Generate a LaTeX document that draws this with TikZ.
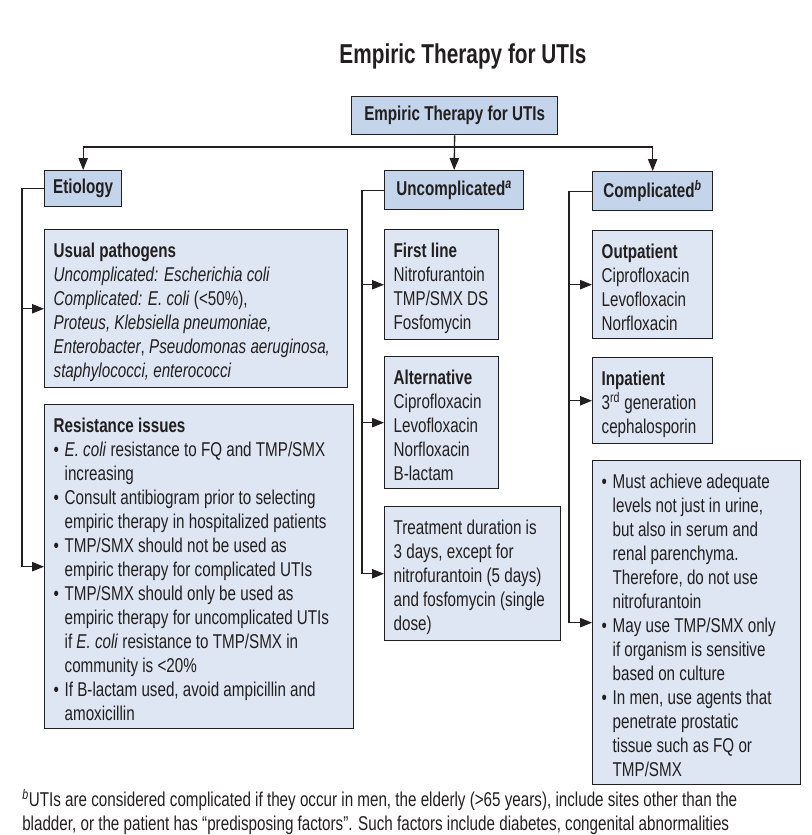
\documentclass[tikz,border=0pt]{standalone}
\usepackage{fontspec}
\setmainfont{Liberation Sans}[FakeStretch=0.76]
\usetikzlibrary{arrows.meta}
\definecolor{ink}{RGB}{35,31,32}
\definecolor{hdrblue}{RGB}{196,212,234}
\definecolor{boxblue}{RGB}{221,230,242}
\newcommand\boxstrut{\rule[-1.5pt]{0pt}{18pt}}
\newcommand\boxdepth{\rule[-1.5pt]{0pt}{1.5pt}}
\newcommand\bul{\makebox[8.25pt][l]{\textbullet}}
\newcommand\ind{\hspace*{8.25pt}}

\begin{document}
\begin{tikzpicture}[x=0.75pt, y=-0.75pt,
    every node/.style={font=\fontsize{15}{18}\selectfont, text=ink},
    head/.style={draw=ink, line width=1pt, fill=hdrblue, anchor=north west, inner sep=0pt},
    info/.style={draw=ink, line width=1pt, fill=boxblue, anchor=north west, align=flush left,
        inner xsep=6.75pt, inner ysep=4.5pt, execute at begin node=\boxstrut, execute at end node=\boxdepth},
    link/.style={draw=ink, line width=1pt, -{Triangle[length=9pt, width=7pt]}}]
    \path[use as bounding box, fill=white] (0,0) rectangle (811,835);

    \node[font=\fontsize{20.5}{25}\selectfont\bfseries, anchor=base] (title) at (463,63) {Empiric Therapy for UTIs};

    \node[head, minimum width=154.5pt, minimum height=28.5pt] (root) at (351,96) {\textbf{Empiric Therapy for UTIs}};
    \node[head, minimum width=57.75pt, minimum height=27pt] (etio) at (44,170) {\textbf{Etiology}};
    \node[head, minimum width=104.25pt, minimum height=29.25pt] (unc) at (384,170) {\textbf{Uncomplicated\textsuperscript{\textit{a}}}};
    \node[head, minimum width=90pt, minimum height=29.25pt] (comp) at (592,171) {\textbf{Complicated\textsuperscript{\textit{b}}}};

    \node[info, text width=213.75pt] (usual) at (44,229) {\textbf{Usual pathogens}\\
        \textit{Uncomplicated: Escherichia coli}\\
        \textit{Complicated: E. coli} (<50\%),\\
        \textit{Proteus, Klebsiella pneumoniae,}\\
        \textit{Enterobacter}, \textit{Pseudomonas aeruginosa,}\\
        \textit{staphylococci, enterococci}};
    \node[info, text width=218.25pt] (resist) at (44,404) {\textbf{Resistance issues}\\
        \bul \textit{E. coli} resistance to FQ and TMP/SMX\\
        \ind increasing\\
        \bul Consult antibiogram prior to selecting\\
        \ind empiric therapy in hospitalized patients\\
        \bul TMP/SMX should not be used as\\
        \ind empiric therapy for complicated UTIs\\
        \bul TMP/SMX should only be used as\\
        \ind empiric therapy for uncomplicated UTIs\\
        \ind if \textit{E. coli} resistance to TMP/SMX in\\
        \ind community is <20\%\\
        \bul If B-lactam used, avoid ampicillin and\\
        \ind amoxicillin};

    \node[info, text width=72pt] (first) at (384,229) {\textbf{First line}\\
        Nitrofurantoin\\ TMP/SMX DS\\ Fosfomycin};
    \node[info, text width=72pt] (alt) at (384,356) {\textbf{Alternative}\\
        Ciprofloxacin\\ Levofloxacin\\ Norfloxacin\\ B-lactam};
    \node[info, text width=118.5pt] (dur) at (384,506) {Treatment duration is\\
        3 days, except for\\ nitrofurantoin (5 days)\\ and fosfomycin (single\\ dose)};

    \node[info, text width=76.5pt] (outp) at (592,230) {\textbf{Outpatient}\\
        Ciprofloxacin\\ Levofloxacin\\ Norfloxacin};
    \node[info, text width=76.5pt] (inp) at (592,357) {\textbf{Inpatient}\\
        3\smash{\textsuperscript{rd}} generation\\ cephalosporin};
    \node[info, text width=142.5pt] (notes) at (592,460) {\bul Must achieve adequate\\
        \ind levels not just in urine,\\
        \ind but also in serum and\\
        \ind renal parenchyma.\\
        \ind Therefore, do not use\\
        \ind nitrofurantoin\\
        \bul May use TMP/SMX only\\
        \ind if organism is sensitive\\
        \ind based on culture\\
        \bul In men, use agents that\\
        \ind penetrate prostatic\\
        \ind tissue such as FQ or\\
        \ind TMP/SMX};

    \node[anchor=north west, inner sep=0pt, align=left] (foot) at (22,784) {\boxstrut\textsuperscript{\textit{b}}UTIs are considered complicated if they occur in men, the elderly (>65 years), include sites other than the\\
        bladder, or the patient has “predisposing factors”. Such factors include diabetes, congenital abnormalities};

    \coordinate (split) at (454,147);
    \draw[link] (root.south) -- (unc.north);
    \draw[link] (split) -| (etio.north);
    \draw[link] (split) -| (comp.north);
    \foreach \b in {usual,resist}
        \draw[link] (etio.west) -- ++(-22,0) |- (\b.west);
    \foreach \b in {first,alt,dur}
        \draw[link] (unc.west) -- ++(-22,0) |- (\b.west);
    \foreach \b in {outp,inp,notes}
        \draw[link] (comp.west) -- ++(-23,0) |- (\b.west);
\end{tikzpicture}
\end{document}
